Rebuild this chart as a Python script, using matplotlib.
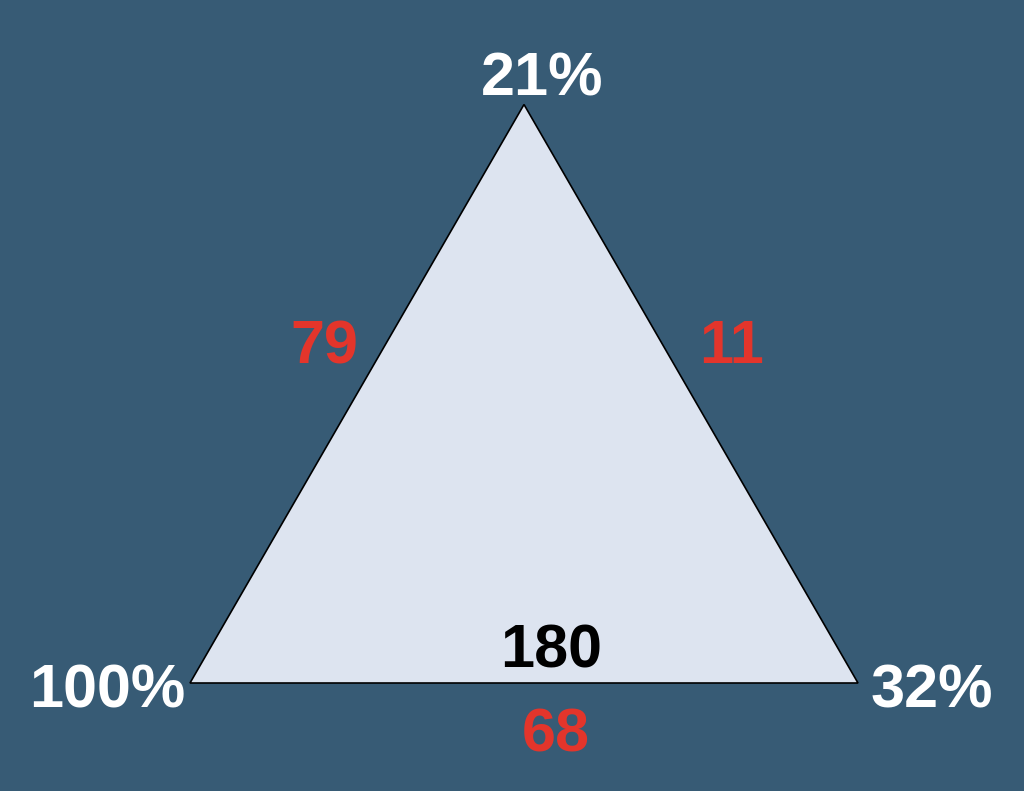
import matplotlib
matplotlib.use("Agg")
import matplotlib.pyplot as plt
from matplotlib.patches import Polygon

# Data
vertex_labels = ["21%", "100%", "32%"]      # top, bottom-left, bottom-right
edge_labels = ["79", "11", "68"]             # left edge, right edge, bottom edge
center_label = "180"

BG = "#375b75"
FILL = "#dde4f0"
RED = "#e3352b"

plt.rcParams['font.family'] = ['Liberation Sans', 'DejaVu Sans']

fig = plt.figure(figsize=(10.24, 7.91), dpi=100, facecolor=BG)
ax = fig.add_axes([0, 0, 1, 1])
ax.set_facecolor(BG)
ax.set_xlim(0, 1024)
ax.set_ylim(791, 0)
ax.axis("off")

# equilateral triangle geometry
base_left = (190, 683)
base_right = (858, 683)
side = base_right[0] - base_left[0]
top = ((base_left[0] + base_right[0]) / 2, base_left[1] - side * 3 ** 0.5 / 2)
verts = [top, base_left, base_right]

ax.add_patch(Polygon(verts, closed=True, facecolor=FILL, edgecolor="black",
                     linewidth=1.2, joinstyle="miter"))

fs = 44
kw = dict(fontsize=fs, fontweight="bold", ha="center", va="baseline")

# vertex labels (white)
vpos = [(top[0] + 18, 95), (base_left[0] - 83, 707), (base_right[0] + 74, 707)]
for (x, y), lab in zip(vpos, vertex_labels):
    ax.text(x, y, lab, color="white", **kw)

# edge labels (red)
epos = [(324, 363), (732, 363), (556, 751)]
for (x, y), lab in zip(epos, edge_labels):
    ax.text(x, y, lab, color=RED, **kw)

# center label
ax.text(551, 667, center_label, color="black", **kw)

fig.savefig("out.png", dpi=100, facecolor=BG)
